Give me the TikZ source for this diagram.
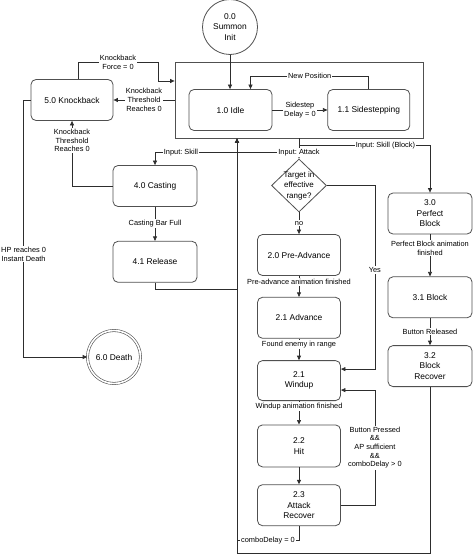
\documentclass[tikz,border=0pt]{standalone}
\usepackage{fontspec}
\setmainfont{Liberation Sans}
\frenchspacing
\usetikzlibrary{shapes.geometric, arrows.meta, positioning, calc}
\definecolor{edgegray}{RGB}{45,45,45}
\definecolor{framegray}{RGB}{80,80,80}
\tikzset{
  block/.style={rectangle, rounded corners=5pt, draw=framegray, line width=0.8pt,
                fill=white, minimum width=83pt, minimum height=41pt, align=center,
                inner sep=2pt, font=\fontsize{8.4}{10.5}\selectfont},
  group/.style={rectangle, draw=framegray, line width=0.8pt,
                minimum width=248pt, minimum height=76pt},
  start/.style={circle, draw=framegray, line width=0.8pt, fill=white,
                minimum size=55pt, inner sep=0pt, align=center,
                font=\fontsize{8.4}{10.5}\selectfont},
  finish/.style={circle, draw=framegray, line width=0.6pt, double=white,
                 double distance=1.6pt, minimum size=53pt, inner sep=0pt,
                 align=center, font=\fontsize{8.4}{10.5}\selectfont},
  decision/.style={diamond, draw=framegray, line width=0.8pt, fill=white,
                   inner sep=-3pt, minimum width=55pt, minimum height=53pt,
                   align=center, font=\fontsize{8}{10.5}\selectfont},
  arrow/.style={-{Triangle[length=4.5pt, width=4pt]}, draw=edgegray, line width=0.7pt},
  lbl/.style={fill=white, inner sep=1pt, align=center,
              font=\fontsize{7.4}{8.7}\selectfont},
}
\begin{document}
\begin{tikzpicture}[x=1pt, y=-1pt, node distance=21pt]
  \useasboundingbox (0,0) rectangle (474,559);
  \node[start] (init) at (230,27) {0.0\\Summon\\Init};
  \node[group] (idlegrp) at (299,100) {};
  \node[block] (idle) at (230.5,110) {1.0 Idle};
  \node[block, right=55pt of idle, minimum width=82pt] (side) {1.1 Sidestepping};
  \node[block, minimum width=82pt] (knock) at (72,100) {5.0 Knockback};
  \node[block, minimum width=84pt] (cast) at (155,186) {4.0 Casting};
  \node[block, minimum width=84pt, below=34pt of cast] (rel) {4.1 Release};
  \node[finish] (death) at (114,357) {6.0 Death};
  \node[decision] (target) at (299,185.5) {Target in\\effective\\range?};
  \node[block] (pre) at (299,255) {2.0 Pre-Advance};
  \node[block, below=of pre] (adv) {2.1 Advance};
  \node[block, below=21.5pt of adv, minimum height=40pt] (windup) {2.1\\Windup};
  \node[block, below=23.5pt of windup, minimum height=42pt] (hit) {2.2\\Hit};
  \node[block, below=17pt of hit] (recov) {2.3\\Attack\\Recover};
  \node[block, minimum width=84pt] (pblock) at (430,213.5) {3.0\\Perfect\\Block};
  \node[block, minimum width=84pt, below=42pt of pblock] (blk) {3.1 Block};
  \node[block, minimum width=84pt, below=27pt of blk] (brec) {3.2\\Block\\Recover};

  \draw[arrow] (init) -- (init |- idle.north);
  \draw[arrow] (side.north) -- ++(0,-13) -| node[lbl, pos=0.25]{New Position} ([xshift=20pt]idle.north);
  \draw[arrow] (idle) -- node[lbl]{Sidestep\\Delay = 0} (side);
  \draw[arrow] ([xshift=6pt]knock.north) -- ++(0,-17) -- node[lbl]{Knockback\\Force = 0} ++(80,0) |- ([yshift=19pt]idlegrp.west);
  \draw[arrow] (idlegrp.west) -- node[lbl]{Knockback\\Threshold\\Reaches 0} (knock.east);
  \draw[arrow] (cast.west) -| node[lbl, pos=0.85]{Knockback\\Threshold\\Reaches 0} (knock.south);
  \draw[arrow] (knock.west) -- ++(-7,0) |- node[lbl, pos=0.3]{HP reaches 0\\Instant Death} (death.west);
  \draw[arrow] (cast) -- node[lbl]{Casting Bar Full} (rel);
  \draw[arrow] (idlegrp.south) -- ++(0,14) -| node[lbl, pos=0.41]{Input: Skill} (cast.north);
  \draw[arrow] (idlegrp.south) -- ++(0,7) -| node[lbl, pos=0.33]{Input: Skill (Block)} (pblock.north);
  \draw[arrow] (idlegrp.south) -- node[lbl, pos=0.7]{Input: Attack} (target.north);
  \draw[arrow] (target) -- node[lbl]{no} (pre);
  \draw[arrow] (target.east) -- ++(48,0) |- node[lbl, pos=0.23]{Yes} ([yshift=11.5pt]windup.east);
  \draw[arrow] (pre) -- node[lbl, pos=0.3]{Pre-advance animation finished} (adv);
  \draw[arrow] (adv) -- node[lbl, pos=0.28]{Found enemy in range} (windup);
  \draw[arrow] (windup) -- node[lbl, pos=0.25]{Windup animation finished} (hit);
  \draw[arrow] (hit) -- (recov);
  \draw[arrow] (recov.east) -- ++(34,0) |- node[lbl, pos=0.25]{Button Pressed\\\&\&\\AP sufficient\\\&\&\\comboDelay > 0} ([yshift=-9.5pt]windup.east);
  \draw[arrow] (pblock) -- node[lbl, pos=0.33]{Perfect Block animation\\finished} (blk);
  \draw[arrow] (blk) -- node[lbl]{Button Released} (brec);
  \draw[arrow] (rel.south) -- ++(0,7) -| ([xshift=-62pt]idlegrp.south);
  \draw[arrow] (recov.south) -- ++(0,14) -| node[lbl, pos=0.25]{comboDelay = 0} ([xshift=-62pt]idlegrp.south);
  \draw[arrow] (brec.south) -- ++(0,166) -| ([xshift=-62pt]idlegrp.south);
\end{tikzpicture}
\end{document}
